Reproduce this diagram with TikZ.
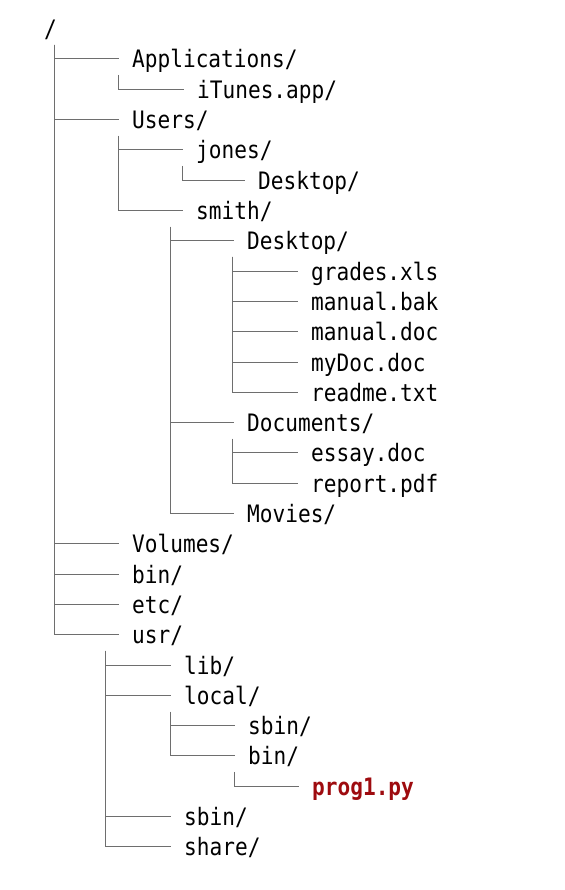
\documentclass[tikz,border=0pt]{standalone}
\usepackage{fontspec}
\setmonofont[FakeStretch=0.88]{DejaVu Sans Mono}
\definecolor{TreeGray}{HTML}{6E6E6E}
\definecolor{TreeRed}{HTML}{9E0B0F}

\begin{document}
\begin{tikzpicture}[x=1pt,y=-1pt,
  item/.style={anchor=west,xshift=-13.5pt,inner xsep=13.5pt,inner ysep=7.5pt,text height=17.5pt,text depth=0pt,font=\ttfamily\fontsize{24}{24}\selectfont},
  hot/.style={item,text=TreeRed,font=\ttfamily\bfseries\fontsize{24}{24}\selectfont},
  branch/.style={draw=TreeGray,line width=1.6pt}]
  \useasboundingbox[fill=white] (0,0) rectangle (564,890);
  % root and first level
  \node[item] (root) at (44,28.5) {/};
  \node[item] (apps) at (132,58.5) {Applications/};
  \node[item] (itunes) at (197,89.5) {iTunes.app/};
  \node[item] (users) at (132,119.5) {Users/};
  \node[item] (jones) at (196,149.5) {jones/};
  \node[item] (jdesk) at (258,180.5) {Desktop/};
  \node[item] (smith) at (196,210.5) {smith/};
  \node[item] (sdesk) at (247,240.5) {Desktop/};
  \node[item] (grades) at (311,271.5) {grades.xls};
  \node[item] (mbak) at (311,301.5) {manual.bak};
  \node[item] (mdoc) at (311,331.5) {manual.doc};
  \node[item] (mydoc) at (311,362.5) {myDoc.doc};
  \node[item] (readme) at (311,392.5) {readme.txt};
  \node[item] (docs) at (247,422.5) {Documents/};
  \node[item] (essay) at (311,452.5) {essay.doc};
  \node[item] (report) at (311,483.5) {report.pdf};
  \node[item] (movies) at (247,513.5) {Movies/};
  \node[item] (volumes) at (132,543.5) {Volumes/};
  \node[item] (bin) at (132,574.5) {bin/};
  \node[item] (etc) at (132,604.5) {etc/};
  \node[item] (usr) at (132,634.5) {usr/};
  % usr subtree
  \node[item] (lib) at (184,665.5) {lib/};
  \node[item] (local) at (184,695.5) {local/};
  \node[item] (lsbin) at (248,725.5) {sbin/};
  \node[item] (lbin) at (248,755.5) {bin/};
  \node[hot] (prog) at (312,786.5) {prog1.py};
  \node[item] (usbin) at (184,816.5) {sbin/};
  \node[item] (share) at (184,846.5) {share/};
  % branches: parent/child/shift of the vertical line
  \foreach \p/\c/\dx in {root/apps/24,root/users/24,root/volumes/24,root/bin/24,root/etc/24,root/usr/24,
    apps/itunes/0,users/jones/0,users/smith/0,jones/jdesk/0,
    smith/sdesk/-12,smith/docs/-12,smith/movies/-12,
    sdesk/grades/-1,sdesk/mbak/-1,sdesk/mdoc/-1,sdesk/mydoc/-1,sdesk/readme/-1,
    docs/essay/-1,docs/report/-1,
    usr/lib/-13,usr/local/-13,usr/usbin/-13,usr/share/-13,
    local/lsbin/0,local/lbin/0,lbin/prog/0}
    \draw[branch] ([xshift=\dx pt]\p.south west) |- (\c.west);
\end{tikzpicture}
\end{document}
